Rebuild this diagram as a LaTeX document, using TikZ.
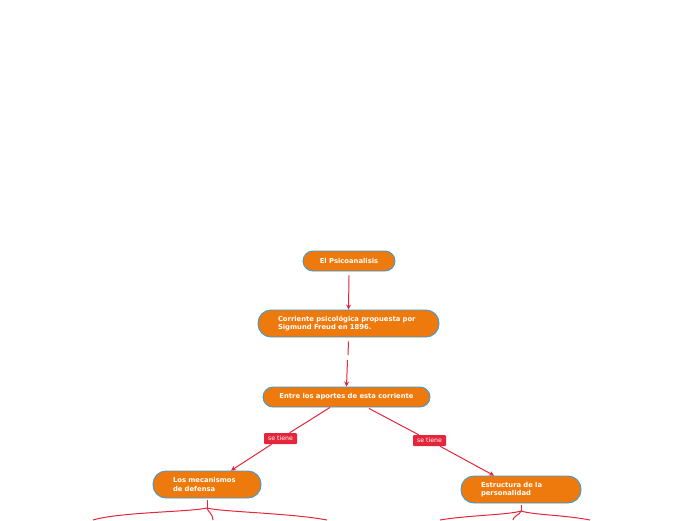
\documentclass[tikz,border=0pt]{standalone}
\usepackage{fontspec}
\setmainfont{DejaVu Sans}
\usetikzlibrary{arrows.meta}
\definecolor{nodeorange}{HTML}{EE7A0D}
\definecolor{nodeblue}{HTML}{3A9BDA}
\definecolor{linered}{HTML}{E4263A}
\begin{document}
\begin{tikzpicture}[x=1pt,y=-1pt,
  box/.style={draw=nodeblue, line width=0.9pt, fill=nodeorange, text=white,
    font=\fontsize{6.8}{8.2}\selectfont\bfseries, inner sep=0pt},
  cbox/.style={box, align=center},
  lbox/.style={box, align=left, inner xsep=20pt},
  lab/.style={fill=linered, text=white, font=\fontsize{6.2}{7}\selectfont,
    inner sep=0pt, minimum width=33pt, minimum height=11pt, rounded corners=1pt},
  rl/.style={draw=linered, line width=1pt},
  arr/.style={rl, -{Stealth[length=5pt,width=5pt]}}]
\useasboundingbox (0,0) rectangle (696,520);
\clip (0,0) rectangle (696,520);

\node[cbox, minimum width=92pt, minimum height=20pt, rounded corners=10pt] (psico) at (349,261) {El Psicoanalisis};
\node[lbox, text width=141pt, minimum height=27pt, rounded corners=13pt] (corr) at (348.5,323.5) {Corriente psicológica propuesta por\\Sigmund Freud en 1896.};
\node[cbox, minimum width=167pt, minimum height=20pt, rounded corners=10pt] (entre) at (346.5,397) {Entre los aportes de esta corriente};
\node[lbox, text width=68pt, minimum height=27pt, rounded corners=13pt] (mec) at (207,484.5) {Los mecanismos\\de defensa};
\node[lbox, text width=80pt, minimum height=27pt, rounded corners=13pt] (est) at (521,489.5) {Estructura de la\\personalidad};

\node[lab] (l1) at (280.5,438.5) {se tiene};
\node[lab] (l2) at (429.5,440.5) {se tiene};

% Psico -> Corriente
\draw[arr] ([yshift=-4pt]psico.south) -- (corr.north);
% Corriente -> Entre (with small gap)
\coordinate (ga) at (348,355);
\coordinate (gb) at (347.5,360);
\draw[rl] ([yshift=-4pt]corr.south) -- (ga);
\draw[arr] (gb) -- (entre.north);
% Entre -> se tiene -> mecanismos
\draw[rl] ([xshift=-16.5pt]entre.south) -- (l1);
\draw[arr] (l1) -- ([xshift=24pt]mec.north);
% Entre -> se tiene -> estructura
\draw[rl] ([xshift=22.5pt,yshift=-1pt]entre.south) -- (l2);
\draw[arr] (l2) -- ([xshift=-27pt]est.north);

% branches from mecanismos
\coordinate (m0) at (207,508);
\draw[rl] ([yshift=-1.5pt]mec.south) -- (m0);
\draw[rl] (m0) .. controls (190,512) and (120,512) .. (93,520);
\draw[rl] (m0) .. controls (208,512) and (213,514) .. (213,520);
\draw[rl] (m0) .. controls (222,512) and (290,513) .. (327,520);

% branches from estructura
\coordinate (e0) at (521,511);
\draw[rl] ([yshift=-1.5pt]est.south) -- (e0);
\draw[rl] (e0) .. controls (508,515) and (470,515) .. (440,520);
\draw[rl] (e0) .. controls (520,515) and (513,516) .. (513,520);
\draw[rl] (e0) .. controls (534,515) and (565,515) .. (590,520);
\end{tikzpicture}
\end{document}
